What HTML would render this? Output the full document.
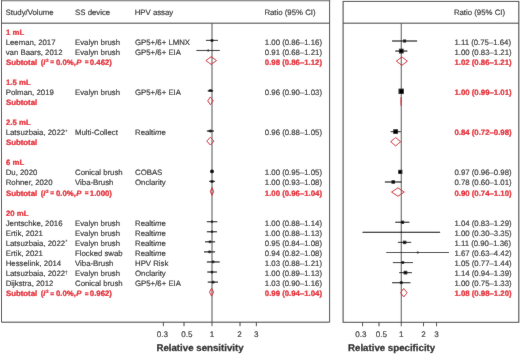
<!DOCTYPE html><html><head><meta charset="utf-8"><title>Forest plot</title><style>html,body{margin:0;padding:0;background:#fff}svg{display:block}text{text-rendering:geometricPrecision;stroke:#1a1a1a;stroke-width:0.14px;font-family:"Liberation Sans",Arial,Helvetica,sans-serif;font-size:7.8px;fill:#1a1a1a}.r{fill:#e2101e;stroke:#e2101e;stroke-width:0.22px;font-weight:bold}.i{font-style:italic}.ax{font-size:9.7px;font-weight:bold;stroke-width:0.25px}</style></head><body>
<svg width="520" height="354" viewBox="0 0 520 354">
<defs><filter id="soft" x="0" y="0" width="520" height="354" filterUnits="userSpaceOnUse"><feConvolveMatrix order="3" kernelMatrix="0.01 0.05 0.01 0.05 0.76 0.05 0.01 0.05 0.01" edgeMode="duplicate" preserveAlpha="true"/></filter></defs>
<rect width="520" height="354" fill="#fff"/>
<g filter="url(#soft)">
<rect width="520" height="354" fill="#fff"/>
<path d="M1.50 0.00 V322.20 H329.60 V0.00" fill="none" stroke="#363636" stroke-width="1" stroke-linejoin="miter"/>
<line x1="1.00" y1="0.75" x2="330.10" y2="0.75" stroke="#686868" stroke-width="1"/>
<rect x="343.10" y="1.40" width="175.70" height="320.90" fill="none" stroke="#363636" stroke-width="1"/>
<line x1="1.50" y1="23.20" x2="329.60" y2="23.20" stroke="#363636" stroke-width="1"/>
<line x1="343.10" y1="23.20" x2="518.80" y2="23.20" stroke="#363636" stroke-width="1"/>
<line x1="212.00" y1="23.20" x2="212.00" y2="326.20" stroke="#4c4c4c" stroke-width="1"/>
<line x1="401.25" y1="23.20" x2="401.25" y2="326.30" stroke="#4c4c4c" stroke-width="1"/>
<line x1="163.37" y1="322.20" x2="163.37" y2="326.20" stroke="#363636" stroke-width="1"/>
<line x1="362.56" y1="322.30" x2="362.56" y2="326.30" stroke="#363636" stroke-width="1"/>
<line x1="184.00" y1="322.20" x2="184.00" y2="326.20" stroke="#363636" stroke-width="1"/>
<line x1="378.97" y1="322.30" x2="378.97" y2="326.30" stroke="#363636" stroke-width="1"/>
<line x1="240.00" y1="322.20" x2="240.00" y2="326.20" stroke="#363636" stroke-width="1"/>
<line x1="423.53" y1="322.30" x2="423.53" y2="326.30" stroke="#363636" stroke-width="1"/>
<line x1="256.37" y1="322.20" x2="256.37" y2="326.20" stroke="#363636" stroke-width="1"/>
<line x1="436.56" y1="322.30" x2="436.56" y2="326.30" stroke="#363636" stroke-width="1"/>
<text x="5.60" y="15.00">Study/Volume</text>
<text x="75.10" y="15.00">SS device</text>
<text x="134.70" y="15.00">HPV assay</text>
<text x="264.40" y="15.00">Ratio (95% CI)</text>
<text x="453.90" y="15.00">Ratio (95% CI)</text>
<text x="162.50" y="336.90" text-anchor="middle" style="font-size:8.1px">0.3</text>
<text x="186.80" y="336.90" text-anchor="middle" style="font-size:8.1px">0.5</text>
<text x="211.90" y="336.90" text-anchor="middle" style="font-size:8.1px">1</text>
<text x="239.60" y="336.90" text-anchor="middle" style="font-size:8.1px">2</text>
<text x="256.20" y="336.90" text-anchor="middle" style="font-size:8.1px">3</text>
<text x="361.00" y="336.90" text-anchor="middle" style="font-size:8.1px">0.3</text>
<text x="381.50" y="336.90" text-anchor="middle" style="font-size:8.1px">0.5</text>
<text x="401.30" y="336.90" text-anchor="middle" style="font-size:8.1px">1</text>
<text x="423.40" y="336.90" text-anchor="middle" style="font-size:8.1px">2</text>
<text x="436.60" y="336.90" text-anchor="middle" style="font-size:8.1px">3</text>
<text x="156.40" y="350.60" class="ax">Relative sensitivity</text>
<text x="348.00" y="350.60" class="ax">Relative specificity</text>
<text x="6.00" y="34.70" class="r">1 mL</text>
<text x="5.70" y="44.75">Leeman, 2017</text>
<text x="75.00" y="44.75">Evalyn brush</text>
<text x="135.00" y="44.75">GP5+/6+ LMNX</text>
<text x="264.80" y="44.75">1.00 (0.86–1.16)</text>
<text x="454.40" y="44.75">1.11 (0.75–1.64)</text>
<line x1="205.91" y1="40.42" x2="217.99" y2="40.42" stroke="#000" stroke-width="1.1"/>
<rect x="210.50" y="38.92" width="3.00" height="3.00" rx="1.20" fill="#000"/>
<line x1="392.00" y1="41.00" x2="417.15" y2="41.00" stroke="#000" stroke-width="1.1"/>
<rect x="403.10" y="39.50" width="3.00" height="3.00" rx="0.00" fill="#000"/>
<text x="5.70" y="54.80">van Baars, 2012</text>
<text x="75.00" y="54.80">Evalyn brush</text>
<text x="135.00" y="54.80">GP5+/6+ EIA</text>
<text x="264.80" y="54.80">0.91 (0.68–1.21)</text>
<text x="454.40" y="54.80">1.00 (0.83–1.21)</text>
<line x1="196.42" y1="50.49" x2="219.70" y2="50.49" stroke="#000" stroke-width="1.1"/>
<rect x="207.19" y="49.49" width="2.00" height="2.00" rx="0.80" fill="#000"/>
<line x1="395.26" y1="51.07" x2="407.38" y2="51.07" stroke="#000" stroke-width="1.1"/>
<rect x="398.90" y="48.72" width="4.70" height="4.70" rx="0.00" fill="#000"/>
<text y="64.85" class="r"><tspan x="6.0">Subtotal </tspan><tspan x="40.7">(</tspan><tspan x="43.3" class="i">I</tspan><tspan x="45.9" dy="-3" style="font-size:4.6px">2</tspan><tspan x="50.3" dy="2.6" style="font-size:6.6px">= </tspan><tspan x="55.9" dy="0.4">0.0%, </tspan><tspan x="76.3" class="i">P </tspan><tspan x="84.8" dy="-0.4" style="font-size:6.6px">= </tspan><tspan x="89.8" dy="0.4">0.462)</tspan></text>
<text x="264.80" y="64.85" class="r">0.98 (0.86–1.12)</text>
<text x="454.40" y="64.85" class="r">1.02 (0.86–1.21)</text>
<path d="M205.91 60.56 L211.18 56.66 L216.58 60.56 L211.18 64.46 Z" fill="none" stroke="#cc0c1a" stroke-width="0.95"/>
<path d="M396.40 61.14 L401.89 56.94 L407.38 61.14 L401.89 65.34 Z" fill="none" stroke="#cc0c1a" stroke-width="0.95"/>
<text x="6.00" y="84.95" class="r">1.5 mL</text>
<text x="5.70" y="95.00">Polman, 2019</text>
<text x="75.00" y="95.00">Evalyn brush</text>
<text x="135.00" y="95.00">GP5+/6+ EIA</text>
<text x="264.80" y="95.00">0.96 (0.90–1.03)</text>
<text x="454.40" y="95.00" class="r">1.00 (0.99–1.01)</text>
<line x1="207.74" y1="90.77" x2="213.19" y2="90.77" stroke="#000" stroke-width="1.1"/>
<rect x="209.05" y="89.47" width="2.60" height="2.60" rx="1.04" fill="#000"/>
<ellipse cx="210.55" cy="90.77" rx="2.40" ry="1.30" fill="#000"/>
<line x1="400.93" y1="91.35" x2="401.57" y2="91.35" stroke="#000" stroke-width="1.1"/>
<rect x="398.55" y="88.65" width="5.40" height="5.40" rx="0.00" fill="#000"/>
<text x="6.00" y="105.05" class="r">Subtotal</text>
<path d="M207.74 100.84 L210.35 96.94 L213.19 100.84 L210.35 104.74 Z" fill="none" stroke="#cc0c1a" stroke-width="0.95"/>
<path d="M400.93 101.42 L401.25 97.22 L401.57 101.42 L401.25 105.62 Z" fill="none" stroke="#cc0c1a" stroke-width="0.95"/>
<text x="6.00" y="125.15" class="r">2.5 mL</text>
<text x="5.70" y="135.20">Latsuzbaia, 2022<tspan x="65.4" dy="-2.7" style="font-size:4.6px">*</tspan></text>
<text x="75.00" y="135.20">Multi-Collect</text>
<text x="135.00" y="135.20">Realti<tspan class="i">m</tspan>e</text>
<text x="264.80" y="135.20">0.96 (0.88–1.05)</text>
<text x="454.40" y="135.20" class="r">0.84 (0.72–0.98)</text>
<line x1="206.84" y1="131.05" x2="213.97" y2="131.05" stroke="#000" stroke-width="1.1"/>
<rect x="209.15" y="129.85" width="2.40" height="2.40" rx="0.96" fill="#000"/>
<ellipse cx="210.35" cy="131.05" rx="2.10" ry="1.20" fill="#000"/>
<line x1="390.69" y1="131.63" x2="400.60" y2="131.63" stroke="#000" stroke-width="1.1"/>
<rect x="393.25" y="129.23" width="4.80" height="4.80" rx="0.00" fill="#000"/>
<text x="6.00" y="145.25" class="r">Subtotal</text>
<path d="M206.84 141.12 L210.35 137.22 L213.97 141.12 L210.35 145.02 Z" fill="none" stroke="#cc0c1a" stroke-width="0.95"/>
<path d="M390.69 141.70 L395.65 137.50 L400.60 141.70 L395.65 145.90 Z" fill="none" stroke="#cc0c1a" stroke-width="0.95"/>
<text x="6.00" y="165.35" class="r">6 mL</text>
<text x="5.70" y="175.40">Du, 2020</text>
<text x="75.00" y="175.40">Conical brush</text>
<text x="135.00" y="175.40">COBAS</text>
<text x="264.80" y="175.40">1.00 (0.95–1.05)</text>
<text x="454.40" y="175.40">0.97 (0.96–0.98)</text>
<line x1="209.93" y1="171.33" x2="213.97" y2="171.33" stroke="#000" stroke-width="1.1"/>
<rect x="210.10" y="169.43" width="3.80" height="3.80" rx="1.52" fill="#000"/>
<line x1="399.94" y1="171.91" x2="400.60" y2="171.91" stroke="#000" stroke-width="1.1"/>
<rect x="398.17" y="169.81" width="4.20" height="4.20" rx="0.00" fill="#000"/>
<text x="5.70" y="185.45">Rohner, 2020</text>
<text x="75.00" y="185.45">Viba-Brush</text>
<text x="135.00" y="185.45">Onclarity</text>
<text x="264.80" y="185.45">1.00 (0.93–1.08)</text>
<text x="454.40" y="185.45">0.78 (0.60–1.01)</text>
<line x1="209.07" y1="181.40" x2="215.11" y2="181.40" stroke="#000" stroke-width="1.1"/>
<rect x="210.80" y="180.20" width="2.40" height="2.40" rx="0.96" fill="#000"/>
<ellipse cx="212.00" cy="181.40" rx="2.00" ry="1.20" fill="#000"/>
<line x1="384.83" y1="181.98" x2="401.57" y2="181.98" stroke="#000" stroke-width="1.1"/>
<rect x="391.52" y="180.23" width="3.50" height="3.50" rx="0.00" fill="#000"/>
<text y="195.50" class="r"><tspan x="6.0">Subtotal </tspan><tspan x="40.7">(</tspan><tspan x="43.3" class="i">I</tspan><tspan x="45.9" dy="-3" style="font-size:4.6px">2</tspan><tspan x="50.3" dy="2.6" style="font-size:6.6px">= </tspan><tspan x="55.9" dy="0.4">0.0%, </tspan><tspan x="76.3" class="i">P </tspan><tspan x="84.8" dy="-0.4" style="font-size:6.6px">= </tspan><tspan x="89.8" dy="0.4">1.000)</tspan></text>
<text x="264.80" y="195.50" class="r">1.00 (0.96–1.04)</text>
<text x="454.40" y="195.50" class="r">0.90 (0.74–1.10)</text>
<path d="M210.35 191.47 L212.00 187.57 L213.58 191.47 L212.00 195.37 Z" fill="none" stroke="#cc0c1a" stroke-width="0.95"/>
<path d="M391.57 192.05 L397.86 187.85 L404.31 192.05 L397.86 196.25 Z" fill="none" stroke="#cc0c1a" stroke-width="0.95"/>
<text x="6.00" y="215.60" class="r">20 mL</text>
<text x="5.70" y="225.65">Jentschke, 2016</text>
<text x="75.00" y="225.65">Evalyn brush</text>
<text x="135.00" y="225.65">Realti<tspan class="i">m</tspan>e</text>
<text x="264.80" y="225.65">1.00 (0.88–1.14)</text>
<text x="454.40" y="225.65">1.04 (0.83–1.29)</text>
<line x1="206.84" y1="221.68" x2="217.29" y2="221.68" stroke="#000" stroke-width="1.1"/>
<rect x="210.75" y="220.43" width="2.50" height="2.50" rx="1.00" fill="#000"/>
<line x1="395.26" y1="222.26" x2="409.43" y2="222.26" stroke="#000" stroke-width="1.1"/>
<rect x="400.91" y="220.66" width="3.20" height="3.20" rx="0.00" fill="#000"/>
<text x="5.70" y="235.70">Ertik, 2021</text>
<text x="75.00" y="235.70">Evalyn brush</text>
<text x="135.00" y="235.70">Realti<tspan class="i">m</tspan>e</text>
<text x="264.80" y="235.70">1.00 (0.88–1.13)</text>
<text x="454.40" y="235.70">1.00 (0.30–3.35)</text>
<line x1="206.84" y1="231.75" x2="216.94" y2="231.75" stroke="#000" stroke-width="1.1"/>
<rect x="210.75" y="230.50" width="2.50" height="2.50" rx="1.00" fill="#000"/>
<line x1="362.56" y1="232.33" x2="440.10" y2="232.33" stroke="#000" stroke-width="1.1"/>
<rect x="400.65" y="231.73" width="1.20" height="1.20" rx="0.00" fill="#000"/>
<text x="5.70" y="245.75">Latsuzbaia, 2022<tspan x="65.4" dy="-2.7" style="font-size:4.6px">*</tspan></text>
<text x="75.00" y="245.75">Evalyn brush</text>
<text x="135.00" y="245.75">Realti<tspan class="i">m</tspan>e</text>
<text x="264.80" y="245.75">0.95 (0.84–1.08)</text>
<text x="454.40" y="245.75">1.11 (0.90–1.36)</text>
<line x1="204.96" y1="241.82" x2="215.11" y2="241.82" stroke="#000" stroke-width="1.1"/>
<rect x="208.58" y="240.47" width="2.70" height="2.70" rx="1.08" fill="#000"/>
<line x1="397.86" y1="242.40" x2="411.13" y2="242.40" stroke="#000" stroke-width="1.1"/>
<rect x="402.90" y="240.70" width="3.40" height="3.40" rx="0.00" fill="#000"/>
<text x="5.70" y="255.80">Ertik, 2021</text>
<text x="75.00" y="255.80">Flocked swab</text>
<text x="135.00" y="255.80">Realti<tspan class="i">m</tspan>e</text>
<text x="264.80" y="255.80">0.94 (0.82–1.08)</text>
<text x="454.40" y="255.80">1.67 (0.63–4.42)</text>
<line x1="203.98" y1="251.89" x2="215.11" y2="251.89" stroke="#000" stroke-width="1.1"/>
<rect x="208.15" y="250.54" width="2.70" height="2.70" rx="1.08" fill="#000"/>
<line x1="386.40" y1="252.47" x2="449.01" y2="252.47" stroke="#000" stroke-width="1.1"/>
<rect x="416.83" y="251.57" width="1.80" height="1.80" rx="0.00" fill="#000"/>
<text x="5.70" y="265.85">Hesselink, 2014</text>
<text x="75.00" y="265.85">Viba-Brush</text>
<text x="135.00" y="265.85">HPV Risk</text>
<text x="264.80" y="265.85">1.03 (0.88–1.21)</text>
<text x="454.40" y="265.85">1.05 (0.77–1.44)</text>
<line x1="206.84" y1="261.96" x2="219.70" y2="261.96" stroke="#000" stroke-width="1.1"/>
<rect x="211.84" y="260.61" width="2.70" height="2.70" rx="1.08" fill="#000"/>
<line x1="392.85" y1="262.54" x2="412.97" y2="262.54" stroke="#000" stroke-width="1.1"/>
<rect x="401.47" y="261.19" width="2.70" height="2.70" rx="0.00" fill="#000"/>
<text x="5.70" y="275.90">Latsuzbaia, 2022<tspan x="65.0" dy="-1.6" style="font-size:4.6px">†</tspan></text>
<text x="75.00" y="275.90">Evalyn brush</text>
<text x="135.00" y="275.90">Onclarity</text>
<text x="264.80" y="275.90">1.00 (0.89–1.13)</text>
<text x="454.40" y="275.90">1.14 (0.94–1.39)</text>
<line x1="207.29" y1="272.03" x2="216.94" y2="272.03" stroke="#000" stroke-width="1.1"/>
<rect x="210.60" y="270.63" width="2.80" height="2.80" rx="1.12" fill="#000"/>
<line x1="399.26" y1="272.61" x2="411.83" y2="272.61" stroke="#000" stroke-width="1.1"/>
<rect x="403.66" y="270.81" width="3.60" height="3.60" rx="0.00" fill="#000"/>
<text x="5.70" y="285.95">Dijkstra, 2012</text>
<text x="75.00" y="285.95">Conical brush</text>
<text x="135.00" y="285.95">GP5+/6+ EIA</text>
<text x="264.80" y="285.95">1.03 (0.90–1.16)</text>
<text x="454.40" y="285.95">1.00 (0.75–1.33)</text>
<line x1="207.74" y1="282.10" x2="217.99" y2="282.10" stroke="#000" stroke-width="1.1"/>
<rect x="211.79" y="280.70" width="2.80" height="2.80" rx="1.12" fill="#000"/>
<line x1="392.00" y1="282.68" x2="410.42" y2="282.68" stroke="#000" stroke-width="1.1"/>
<rect x="399.85" y="281.28" width="2.80" height="2.80" rx="0.00" fill="#000"/>
<text y="296.00" class="r"><tspan x="6.0">Subtotal </tspan><tspan x="40.7">(</tspan><tspan x="43.3" class="i">I</tspan><tspan x="45.9" dy="-3" style="font-size:4.6px">2</tspan><tspan x="50.3" dy="2.6" style="font-size:6.6px">= </tspan><tspan x="55.9" dy="0.4">0.0%, </tspan><tspan x="76.3" class="i">P </tspan><tspan x="84.8" dy="-0.4" style="font-size:6.6px">= </tspan><tspan x="89.8" dy="0.4">0.962)</tspan></text>
<text x="264.80" y="296.00" class="r">0.99 (0.94–1.04)</text>
<text x="454.40" y="296.00" class="r">1.08 (0.98–1.20)</text>
<path d="M209.50 292.17 L211.59 288.27 L213.58 292.17 L211.59 296.07 Z" fill="none" stroke="#cc0c1a" stroke-width="0.95"/>
<path d="M400.60 292.75 L403.72 288.55 L407.11 292.75 L403.72 296.95 Z" fill="none" stroke="#cc0c1a" stroke-width="0.95"/>
</g></svg></body></html>
